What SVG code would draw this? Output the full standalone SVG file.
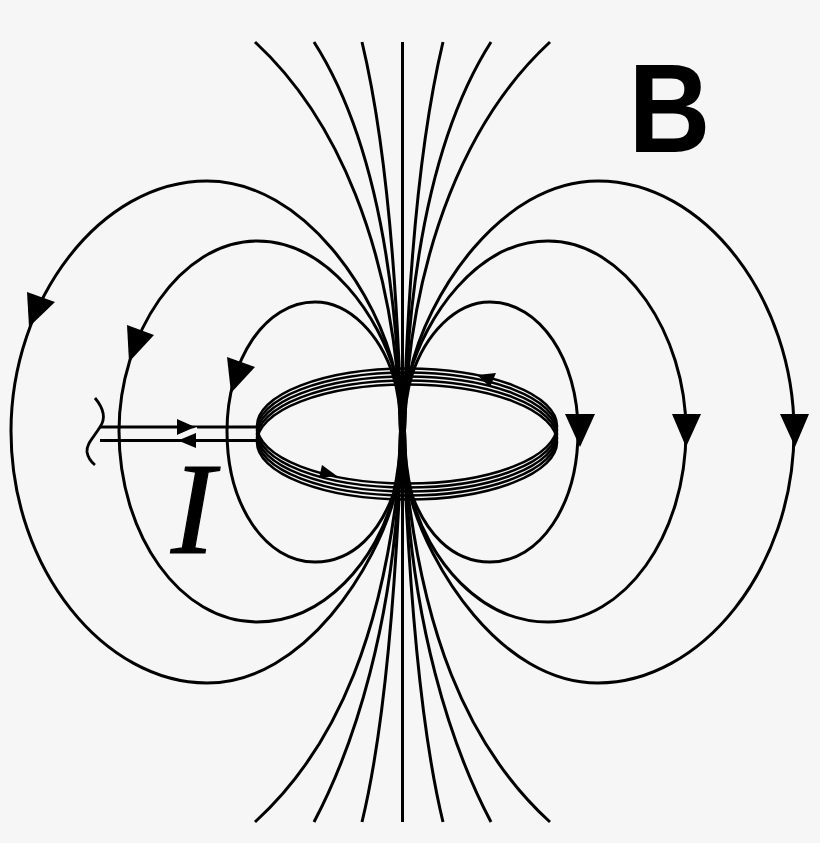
<svg xmlns="http://www.w3.org/2000/svg" width="820" height="843" viewBox="0 0 820 843">
<style>
.l{fill:none;stroke:#000;stroke-width:3}
.c{fill:none;stroke:#000;stroke-width:2.6}
.w{fill:none;stroke:#000;stroke-width:2.8}
.h{fill:#000;stroke:none}
</style>
<defs>
<g id="field">
<path d="M550 42C460 125 420 255 408 370C405.500 395 404.500 415 404.500 431C404.500 450 405.500 470 408 494C424 620 460 740 550 822"/>
<path d="M491 42C438 125 415 245 407 363C405 395 404.500 415 404.500 431C404.500 450 405 470 407 500C416 620 445 735 491 822"/>
<path d="M443 42C422 130 411 250 406 363C405 395 404.500 415 404.500 431C404.500 450 405 470 406 500C412 620 422 735 443 822"/>
<path d="M404.500 431C404.500 410 406 390 410 373C426 297 500 181 598 181C705 181 794 300 794 431C794 570 700 683 598 683C500 683 428 565 410 495C406 475 404.500 450 404.500 431Z"/>
<path d="M404.500 431C404.500 410 406 390 410 373C425 320 475 241 548 241C625 241 686 335 686 431C686 535 625 622 548 622C480 622 428 560 411 495C406 475 404.500 450 404.500 431Z"/>
<path d="M404.500 431C404.500 410 407 390 412 375C425 335 455 302 490 302C540 302 578 360 578 431C578 505 540 562 490 562C450 562 425 530 412 495C407 475 404.500 450 404.500 431Z"/>
</g>
</defs>
<rect width="820" height="843" fill="#f6f6f6"/>
<g id="connectors">
<g class="l"><path d="M402.500 42V822"/><use href="#field"/><use href="#field" transform="matrix(-1 0 0 1 805 0)"/></g>
<path class="w" d="M100 427H257M100 440.500H257"/>
<path class="w" d="M95 398C105 410 105 420 100 427C94 437 86 444 87 452C88 458 90 461 95 465"/>
</g>
<g id="coil" class="c">
<ellipse cx="407" cy="426" rx="150" ry="57.500"/>
<ellipse cx="407" cy="430" rx="150" ry="57.500"/>
<ellipse cx="407" cy="434" rx="150" ry="57.500"/>
<ellipse cx="407" cy="438" rx="150" ry="57.500"/>
<ellipse cx="407" cy="442" rx="150" ry="57.500"/>
</g>
<g id="arrowheads" class="h">
<path d="M565 414H595L580 447Z"/>
<path d="M672 414H701L686 447Z"/>
<path d="M780 414H809L795 447Z"/>
<path d="M227 357L255 367L231 393Z"/>
<path d="M127 325L154 335L129 362Z"/>
<path d="M27 292L55 302L29 327Z"/>
<path d="M477 375L496 373L490 387Z"/>
<path d="M322 465L337 476L319 478Z"/>
<path d="M177 419L195 427L177 435Z"/>
<path d="M196 433V448L178 440.500Z"/>
<path d="M177 436.500L197 428" fill="none" stroke="#f6f6f6" stroke-width="2"/>
</g>
<g id="label-B"><text transform="translate(628.500 151.500) scale(.9 1)" font-family="Liberation Sans, sans-serif" font-weight="700" font-size="126">B</text></g>
<g id="label-I"><text x="171" y="553" font-family="Liberation Serif, serif" font-style="italic" font-size="132" stroke="#000" stroke-width="1.200">I</text></g>
</svg>
